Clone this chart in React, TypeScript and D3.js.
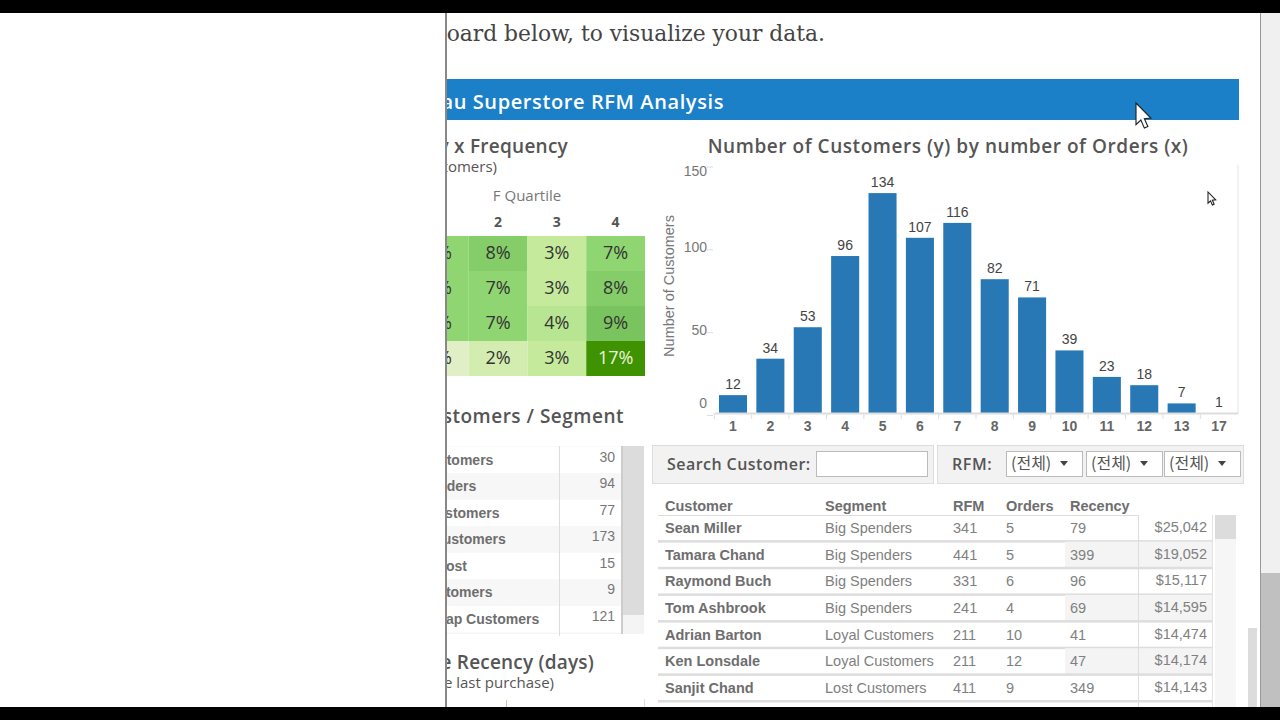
import * as d3 from "d3";
import React, { useEffect, useRef } from "react";

const orders = ["1", "2", "3", "4", "5", "6", "7", "8", "9", "10", "11", "12", "13", "17"];
const customers = [12, 34, 53, 96, 134, 107, 116, 82, 71, 39, 23, 18, 7, 1];
const yTicks = [0, 50, 100, 150];

const quartiles = ["1", "2", "3", "4"];
const heatRows = [
  [7, 8, 3, 7],
  [7, 7, 3, 8],
  [7, 7, 4, 9],
  [1, 2, 3, 17],
];

const segments = ["Best Customers", "Big Spenders", "Loyal Customers", "Cheap Customers", "Almost Lost", "Lost Customers", "Lost Cheap Customers"];
const segmentCounts = [30, 94, 77, 173, 15, 9, 121];

const tableNames = ["Sean Miller", "Tamara Chand", "Raymond Buch", "Tom Ashbrook", "Adrian Barton", "Ken Lonsdale", "Sanjit Chand"];
const tableSegments = ["Big Spenders", "Big Spenders", "Big Spenders", "Big Spenders", "Loyal Customers", "Loyal Customers", "Lost Customers"];
const tableRfm = [341, 441, 331, 241, 211, 211, 411];
const tableOrders = [5, 5, 6, 4, 10, 12, 9];
const tableRecency = [79, 399, 96, 69, 41, 47, 349];
const tableSales = [25042, 19052, 15117, 14595, 14474, 14174, 14143];

const sans = "'Liberation Sans', Arial, sans-serif";
const head = "'Open Sans', 'Noto Sans', sans-serif";
const barColor = "#2878b5";

const x = d3.scaleBand<string>().domain(orders).range([714.3, 1237.7]).paddingInner(0.25).paddingOuter(0.125);
const y = d3.scaleLinear().domain([0, 150]).range([415, 166.6]);
const baseline = 413;
const heatColor = d3
  .scaleLinear<string>()
  .domain([1, 3, 7, 9, 17])
  .range(["#e0efc6", "#c5ea9c", "#8fd672", "#7ac460", "#3f9200"]);
const heatX = d3.scaleBand<string>().domain(quartiles).range([410, 645]);
const heatY = d3.scaleBand<number>().domain([0, 1, 2, 3]).range([236, 376]);
const segY = d3.scaleBand<number>().domain(d3.range(segments.length)).range([446.5, 632.5]);
const rowY = d3.scaleBand<number>().domain(d3.range(tableNames.length)).range([515, 701.5]);
const money = d3.format("$,");

const selects = [1006, 1086, 1164];

const Cursor = ({ tx, ty, s }: { tx: number; ty: number; s: number }) => (
  <path
    transform={`translate(${tx},${ty}) scale(${s})`}
    d="M0 0 L0 16 L3.6 12.6 L6.2 18.6 L8.8 17.4 L6.2 11.6 L11 11.2 Z"
    fill="#fff"
    stroke="#222"
    strokeWidth={1 / s + 0.1}
  />
);

export default function App() {
  const axisRef = useRef<SVGGElement | null>(null);

  useEffect(() => {
    if (!axisRef.current) return;
    const g = d3.select(axisRef.current);
    g.selectAll("*").remove();

    // y axis
    const left = g
      .append("g")
      .attr("transform", "translate(713,0)")
      .call(d3.axisLeft(y).tickValues(yTicks).tickSize(6).tickPadding(0));
    left.select(".domain").remove();
    left.selectAll("line").attr("stroke", "#ddd");
    left
      .selectAll<SVGTextElement, number>("text")
      .attr("font-family", sans)
      .attr("font-size", 14)
      .attr("fill", "#777")
      .attr("transform", (d) => (d === 0 ? "translate(0,-12)" : d === 150 ? "translate(0,4)" : "translate(0,-2)"));

    // x axis
    const bottom = g
      .append("g")
      .attr("transform", `translate(0,${baseline})`)
      .call(d3.axisBottom(x).tickSize(0).tickPadding(8));
    bottom.select(".domain").attr("stroke", "#ddd").attr("stroke-width", 2);
    bottom
      .selectAll("text")
      .attr("font-family", sans)
      .attr("font-size", 14)
      .attr("font-weight", "bold")
      .attr("fill", "#666");
  }, []);

  return (
    <svg width={1280} height={720} style={{ position: "fixed", left: 0, top: 0, background: "#fff" }}>
      <defs>
        <clipPath id="page">
          <rect x={447} y={13} width={813} height={694} />
        </clipPath>
      </defs>

      <g clipPath="url(#page)">
        <text x={825} y={41} textAnchor="end" fontFamily="'DejaVu Serif', serif" fontSize={21.8} fill="#444">
          Use the dashboard below, to visualize your data.
        </text>

        <rect x={300} y={79} width={939} height={41} fill="#1b80c8" />
        <text x={724} y={109} textAnchor="end" fontFamily={head} fontWeight={600} fontSize={20} letterSpacing={0.6} fill="#fff">
          Tableau Superstore RFM Analysis
        </text>

        {/* heatmap */}
        <text x={568} y={153} textAnchor="end" fontFamily={head} fontWeight={600} fontSize={19} letterSpacing={0.25} fill="#555">
          Recency x Frequency
        </text>
        <text x={497} y={172} textAnchor="end" fontFamily={head} fontSize={15} fill="#555">
          (% of customers)
        </text>
        <text x={527} y={201} textAnchor="middle" fontFamily={head} fontSize={15} fill="#777">
          F Quartile
        </text>
        {quartiles.slice(1).map((q) => (
          <text key={q} x={heatX(q)! + heatX.bandwidth() / 2} y={227} textAnchor="middle" fontFamily={head} fontWeight={700} fontSize={14} fill="#555">
            {q}
          </text>
        ))}
        {heatRows.map((row, r) =>
          row.map((v, c) => (
            <g key={`${r}-${c}`}>
              <rect x={heatX(quartiles[c])} y={heatY(r)} width={heatX.bandwidth()} height={heatY.bandwidth()} fill={heatColor(v)} />
              <text
                x={heatX(quartiles[c])! + heatX.bandwidth() / 2}
                y={heatY(r)! + heatY.bandwidth() / 2 + 5}
                textAnchor="middle"
                fontFamily={head}
                fontSize={18}
                fill={v > 12 ? "#eaf5dd" : "#333"}
              >
                {v}%
              </text>
            </g>
          ))
        )}

        {/* segment list */}
        <text x={624} y={423} textAnchor="end" fontFamily={head} fontWeight={600} fontSize={19} letterSpacing={0.5} fill="#555">
          Customers / Segment
        </text>
        <rect x={447} y={446} width={197} height={188} fill="#f4f4f4" />
        {segments.map((s, i) => (
          <g key={s}>
            <rect x={447} y={segY(i)} width={174} height={segY.bandwidth()} fill={i % 2 ? "#f7f7f7" : "#fff"} />
            <text x={386} y={segY(i)! + 18} fontFamily={sans} fontWeight={700} fontSize={14} fill="#6e6e6e">
              {s}
            </text>
            <text x={615} y={segY(i)! + 15} textAnchor="end" fontFamily={sans} fontSize={14} fill="#777">
              {segmentCounts[i]}
            </text>
          </g>
        ))}
        <line x1={559.5} x2={559.5} y1={446} y2={636} stroke="#ddd" />
        <rect x={621} y={446} width={2} height={188} fill="#ccc" />
        <rect x={623} y={446} width={21} height={169} fill="#dcdcdc" />

        <text x={594} y={669} textAnchor="end" fontFamily={head} fontWeight={600} fontSize={19} letterSpacing={0.2} fill="#555">
          Average Recency (days)
        </text>
        <text x={554} y={688} textAnchor="end" fontFamily={head} fontSize={15} fill="#555">
          (Days since the last purchase)
        </text>
        <line x1={506.5} x2={506.5} y1={700} y2={707} stroke="#b5d8a5" />
        <line x1={644.5} x2={644.5} y1={699} y2={707} stroke="#ddd" />

        {/* bar chart */}
        <text x={948} y={153} textAnchor="middle" fontFamily={head} fontWeight={600} fontSize={19} letterSpacing={0.55} fill="#555">
          Number of Customers (y) by number of Orders (x)
        </text>
        <line x1={1238} x2={1238} y1={165} y2={413} stroke="#e4e4e4" />
        <text transform="translate(674,286) rotate(-90)" textAnchor="middle" fontFamily={sans} fontSize={14.5} fill="#777">
          Number of Customers
        </text>
        {customers.map((v, i) => (
          <g key={orders[i]}>
            <rect
              x={x(orders[i])}
              y={y(v)}
              width={x.bandwidth()}
              height={Math.max(0, baseline - y(v))}
              fill={barColor}
            />
            <text x={x(orders[i])! + x.bandwidth() / 2} y={y(v) - 6} textAnchor="middle" fontFamily={sans} fontSize={14} fill="#444">
              {v}
            </text>
            <line
              x1={x(orders[i])! - x.step() * 0.125}
              x2={x(orders[i])! - x.step() * 0.125}
              y1={baseline}
              y2={baseline + 6}
              stroke="#ddd"
            />
          </g>
        ))}
        <g ref={axisRef} />

        {/* filters */}
        <rect x={652.5} y={445.5} width={281} height={38} fill="#f2f2f2" stroke="#ddd" />
        <text x={667} y={470} fontFamily={head} fontWeight={600} fontSize={16} letterSpacing={0.45} fill="#555">
          Search Customer:
        </text>
        <rect x={816.5} y={451.5} width={111} height={25} fill="#fff" stroke="#bbb" />
        <rect x={937.5} y={445.5} width={306} height={38} fill="#f2f2f2" stroke="#ddd" />
        <text x={952} y={470} fontFamily={head} fontWeight={600} fontSize={16} letterSpacing={0.6} fill="#555">
          RFM:
        </text>
        {selects.map((sx) => (
          <g key={sx}>
            <rect x={sx + 0.5} y={451.5} width={76} height={25} fill="#fff" stroke="#bbb" />
            <text x={sx + 5} y={469} fontFamily="'Noto Sans CJK KR', sans-serif" fontSize={16} fill="#555">
              (전체)
            </text>
            <path d={`M${sx + 54} 461 h8 l-4 5 Z`} fill="#444" />
          </g>
        ))}

        {/* customer table */}
        <g fontFamily={sans} fontSize={14.5}>
          <g fontWeight={700} fill="#6e6e6e">
            <text x={665} y={511}>Customer</text>
            <text x={825} y={511}>Segment</text>
            <text x={953} y={511}>RFM</text>
            <text x={1006} y={511}>Orders</text>
            <text x={1070} y={511}>Recency</text>
          </g>
          <line x1={658} x2={1138} y1={515.5} y2={515.5} stroke="#ddd" />
          {tableNames.map((n, i) => (
            <g key={n}>
              {i % 2 === 1 && <rect x={1065} y={rowY(i)} width={147} height={rowY.bandwidth()} fill="#f4f4f4" />}
              <text x={665} y={rowY(i)! + 18} fontWeight={700} fill="#6e6e6e">{n}</text>
              <text x={825} y={rowY(i)! + 18} fill="#808080">{tableSegments[i]}</text>
              <text x={953} y={rowY(i)! + 18} fill="#808080">{tableRfm[i]}</text>
              <text x={1006} y={rowY(i)! + 18} fill="#808080">{tableOrders[i]}</text>
              <text x={1070} y={rowY(i)! + 18} fill="#808080">{tableRecency[i]}</text>
              <text x={1207} y={rowY(i)! + 17} textAnchor="end" fill="#808080">{money(tableSales[i])}</text>
              <rect x={658} y={rowY(i)! + rowY.bandwidth() - 1.5} width={554} height={2.5} fill="#ddd" />
            </g>
          ))}
          <line x1={1138.5} x2={1138.5} y1={515} y2={707} stroke="#ddd" />
          <line x1={1212.5} x2={1212.5} y1={515} y2={707} stroke="#e4e4e4" />
        </g>
        <rect x={1215} y={515} width={21} height={192} fill="#f6f6f6" />
        <rect x={1215} y={515} width={21} height={24} fill="#dcdcdc" />
        <rect x={1248} y={628} width={9} height={79} fill="#dcdcdc" />

        <Cursor tx={1136} ty={103} s={1.35} />
        <Cursor tx={1208} ty={192} s={0.7} />
      </g>

      {/* browser chrome */}
      <rect x={445} y={13} width={2} height={694} fill="#888" />
      <rect x={1260} y={13} width={20} height={694} fill="#f0f0f0" />
      <rect x={1260} y={13} width={1} height={694} fill="#999" />
      <rect x={1261} y={573} width={19} height={134} fill="#c0c0c0" />
      <rect x={0} y={0} width={1280} height={13} fill="#000" />
      <rect x={0} y={707} width={1280} height={13} fill="#000" />
    </svg>
  );
}
